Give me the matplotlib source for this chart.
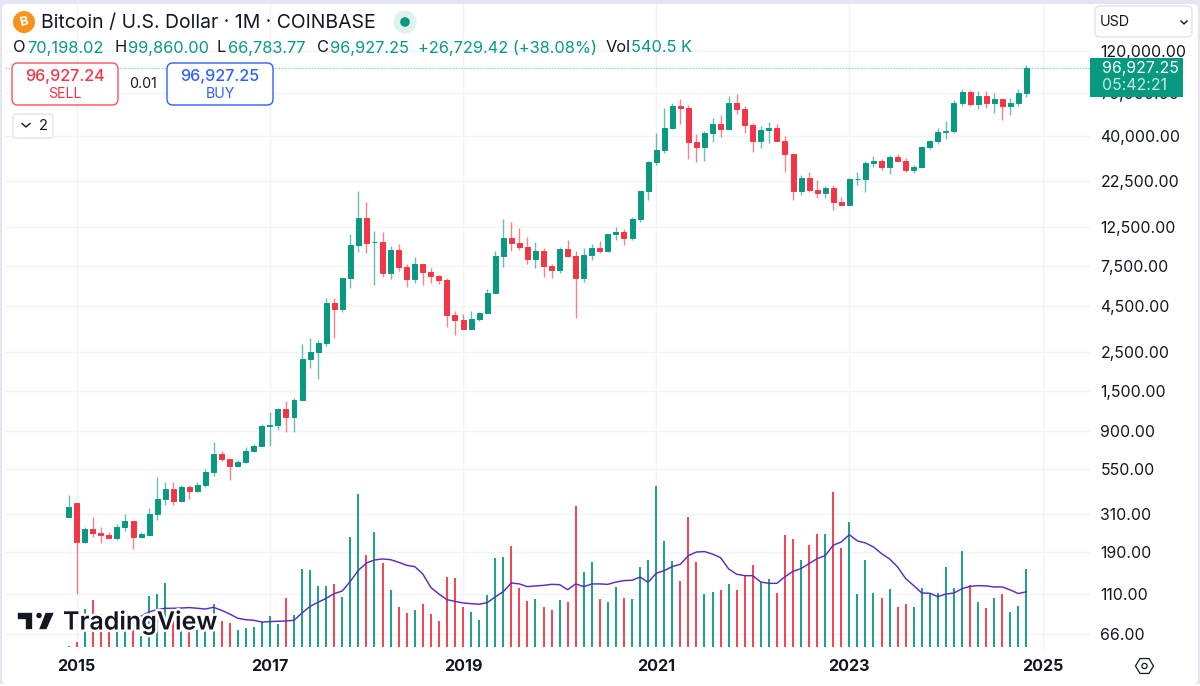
import matplotlib
matplotlib.use('Agg')
import matplotlib.pyplot as plt
import matplotlib.patheffects as pe
from matplotlib.patches import Circle, FancyBboxPatch, Polygon, Rectangle
from matplotlib.ticker import NullLocator
import numpy as np

plt.rcParams['font.family'] = ['Inter', 'DejaVu Sans']

# monthly candles, Dec 2014 to Nov 2024
opens = [298, 357, 217, 254, 244, 236, 226, 263, 284, 230, 236, 311, 378,
         430, 368, 436, 416, 448, 531, 670, 625, 575, 608, 700, 742,
         963, 970, 1190, 1080, 1350, 2270, 2480, 2800, 4700, 4360, 6450, 9900,
         13900, 10250, 10300, 6925, 9240, 7490, 6390, 7730, 7010, 6600, 6300, 4020,
         3740, 3360, 3810, 4100, 5320, 8570, 10820, 10080, 9600, 8300, 9150, 7550,
         7190, 9350, 8540, 6420, 8630, 9450, 9140, 11350, 11650, 10780, 13800, 19700,
         28800, 33400, 44300, 58800, 57700, 37300, 34900, 41500, 46900, 43800, 61300, 56900,
         46300, 37900, 43200, 44700, 37600, 31800, 19900, 23300, 19950, 19350, 20500, 17150,
         16530, 23130, 23140, 28470, 29230, 26900, 30470, 29230, 25940, 26970, 34660, 37720,
         42280, 42580, 61170, 70700, 60900, 66900, 61800, 64700, 58800, 61600, 70198.02]
highs = [396, 357, 262, 298, 262, 247, 272, 310, 284, 245, 335, 500, 469,
         465, 448, 448, 470, 550, 780, 700, 625, 620, 735, 760, 985,
         1150, 1218, 1330, 1370, 2760, 3000, 2920, 4980, 4980, 6500, 11400, 19900,
         17200, 11800, 11700, 9750, 10000, 7760, 8500, 7750, 7350, 6730, 6420, 4200,
         4080, 4200, 4150, 5600, 9100, 13880, 13200, 12300, 10950, 10300, 9500, 7700,
         9600, 10500, 9180, 9460, 10050, 10380, 11430, 12480, 12070, 14100, 19915, 29300,
         41900, 57900, 61800, 64900, 59500, 41300, 42600, 50500, 52900, 66900, 68900, 59000,
         47800, 45800, 48200, 46900, 40000, 31900, 24300, 25200, 22800, 21100, 21500, 18300,
         23300, 25200, 29200, 30900, 29900, 31400, 31800, 30100, 27500, 35200, 38400, 44700,
         48900, 64000, 73800, 72700, 71900, 72000, 70000, 65000, 65800, 73500, 99860]
lows = [298, 110, 213, 231, 214, 226, 221, 250, 198, 226, 235, 288, 350,
        350, 360, 375, 410, 440, 507, 610, 480, 570, 600, 690, 740,
        745, 910, 890, 890, 1350, 2040, 1760, 2700, 2970, 4160, 5700, 9000,
        8900, 5920, 6530, 6400, 7050, 5780, 6070, 5900, 6080, 6000, 3420, 3120,
        3340, 3340, 3700, 4100, 5320, 7400, 9100, 9320, 7750, 7350, 6570, 6420,
        6850, 8500, 3850, 6150, 8130, 8900, 9000, 10560, 9900, 10520, 13250, 17700,
        27700, 32300, 44000, 46900, 30000, 28800, 29300, 37300, 39600, 43200, 53400, 42000,
        32900, 34300, 36500, 37500, 25400, 17600, 18900, 19550, 18100, 18100, 15500, 16500,
        16500, 21400, 19600, 26900, 25800, 24750, 29000, 25300, 24900, 26550, 34100, 36200,
        38500, 42000, 59200, 59200, 56600, 57300, 53700, 49500, 52600, 58900, 66783.77]
closes = [339, 217, 254, 244, 236, 228, 263, 284, 230, 240, 311, 378, 430,
          368, 436, 416, 448, 531, 670, 625, 575, 608, 700, 742, 963,
          970, 1190, 1080, 1350, 2270, 2480, 2800, 4700, 4360, 6450, 9900, 13900,
          10200, 10300, 6925, 9240, 7490, 6390, 7730, 7010, 6600, 6300, 4020, 3740,
          3360, 3810, 4100, 5320, 8570, 10820, 10080, 9600, 8300, 9150, 7550, 7190,
          9350, 8540, 6420, 8630, 9450, 9140, 11350, 11650, 10780, 13800, 19700, 28800,
          33400, 44300, 58800, 57700, 37300, 34900, 41500, 46900, 43800, 61300, 56900, 46300,
          37900, 43200, 44700, 37600, 31800, 19900, 23300, 19950, 19350, 20500, 17150, 16530,
          23130, 23140, 28470, 29230, 26900, 30470, 29230, 25940, 26970, 34660, 37720, 42280,
          42580, 61170, 70700, 60900, 66900, 61800, 64700, 58800, 61600, 70198.02, 96927.25]
# volume in thousands
volumes = [5, 32, 266, 328, 231, 160, 185, 160, 115, 74, 351, 370, 444,
           185, 185, 160, 120, 178, 300, 182, 166, 120, 132, 136, 171,
           217, 162, 340, 224, 538, 536, 420, 420, 439, 349, 762, 1060,
           635, 797, 582, 393, 275, 236, 256, 300, 226, 182, 485, 478,
           280, 240, 189, 363, 617, 626, 702, 407, 319, 335, 280, 256,
           323, 314, 977, 522, 587, 335, 310, 416, 340, 335, 557, 605,
           1113, 737, 598, 460, 903, 587, 367, 383, 397, 437, 397, 490,
           568, 448, 474, 372, 776, 748, 601, 709, 783, 783, 1074, 688,
           869, 367, 605, 377, 342, 402, 280, 300, 280, 407, 367, 377,
           552, 407, 668, 430, 314, 270, 340, 367, 245, 286, 540.5]
# volume average line, starts Sep 2015
vol_ma = [213, 243, 259, 268,
          268, 270, 273, 268, 263, 275, 254, 229, 199, 189, 185, 173,
          176, 178, 180, 185, 236, 282, 310, 337, 370, 388, 455, 531,
          582, 603, 610, 605, 587, 566, 557, 506, 413, 367, 328, 316,
          305, 300, 296, 307, 347, 383, 444, 437, 418, 423, 427, 434,
          432, 397, 437, 418, 437, 437, 434, 450, 460, 462, 485, 448,
          511, 529, 557, 573, 633, 658, 661, 644, 619, 541, 504, 494,
          494, 450, 441, 441, 487, 524, 543, 578, 612, 633, 705, 728,
          778, 735, 721, 693, 647, 610, 554, 474, 425, 374, 372, 349,
          367, 374, 404, 420, 425, 423, 416, 416, 395, 370, 383]
price_ticks = [66, 110, 190, 310, 550, 900, 1500, 2500, 4500, 7500, 12500,
               22500, 40000, 70000, 120000]
year_ticks = [0, 24, 48, 72, 96, 120]
year_labels = ['2015', '2017', '2019', '2021', '2023', '2025']

UP = '#089981'
DOWN = '#f23645'
GRID = '#f2f3f5'
INK = '#131722'

months = np.arange(-1, 119)
is_up = np.array(closes) >= np.array(opens)
colors = [UP if u else DOWN for u in is_up]

fig = plt.figure(figsize=(12, 6.86), dpi=100, facecolor='white')
box = [5 / 1200, 1 - 650 / 686, 1085 / 1200, 645 / 686]

# page frame
bg = fig.add_axes([0, 0, 1, 1], zorder=0)
bg.set_xlim(0, 1200)
bg.set_ylim(686, 0)
bg.axis('off')
bg.add_patch(Rectangle((0, 0), 1200, 686, fc='#e2e6f0', ec='none'))
bg.add_patch(Rectangle((0, 684), 1200, 2, fc='white', ec='none'))
bg.add_patch(FancyBboxPatch((6, 8), 1188, 672, boxstyle='round,pad=4,rounding_size=5',
                            fc='white', ec='none'))

# price pane
ax = fig.add_axes(box, zorder=1)
ax.patch.set_alpha(0)
ax.set_yscale('log')
ax.set_xlim(-8.907, 125.9)
ax.set_ylim(53.8, 216900)
ax.vlines(months, lows, highs, colors=colors, lw=1.0, alpha=0.62, zorder=3)
ax.bar(months, np.abs(np.array(closes) - np.array(opens)),
       bottom=np.minimum(opens, closes), width=0.62,
       color=colors, edgecolor=colors, linewidth=0.7, zorder=4)
ax.set_yticks(price_ticks)
ax.set_yticklabels([f'{v:,.2f}' for v in price_ticks])
ax.yaxis.set_minor_locator(NullLocator())
ax.yaxis.tick_right()
ax.set_xticks(year_ticks)
ax.set_xticklabels(year_labels, fontweight='bold', color=INK, fontsize=11.6)
ax.tick_params(axis='both', length=0)
ax.tick_params(axis='y', pad=7.5, labelsize=11.4, labelcolor=INK)
ax.tick_params(axis='x', pad=6.5)
ax.grid(True, color=GRID, lw=1.0, zorder=0)
ax.set_axisbelow(True)
for s in ax.spines.values():
    s.set_visible(False)
ax.axhline(closes[-1], color=UP, lw=0.9, ls=(0, (1, 1.4)), alpha=0.55, zorder=2)

# volume pane on the same box
vax = fig.add_axes(box, zorder=2, sharex=ax)
vax.patch.set_alpha(0)
vax.set_ylim(-21, 4449)
vax.vlines(months, 0, volumes, colors=colors, lw=1.3, capstyle='butt')
vax.plot(months[-len(vol_ma):], vol_ma, color='#5b2dbd', lw=1.05)
vax.axis('off')

# everything around the chart, in pixels
ui = fig.add_axes([0, 0, 1, 1], zorder=3)
ui.set_xlim(0, 1200)
ui.set_ylim(686, 0)
ui.axis('off')

# header
ui.add_patch(Circle((24, 22), 11, fc='#f7931a', ec='none'))
ui.text(24, 22.5, 'B', color='white', fontsize=9.5, fontweight='bold', ha='center', va='center',
        rotation=12)
ui.text(41, 22.5, 'Bitcoin / U.S. Dollar · 1M · COINBASE', fontsize=13.95, color=INK, va='center')
ui.add_patch(Circle((405, 22), 11.5, fc='#dff1ec', ec='none'))
ui.add_patch(Circle((405, 22), 4.8, fc=UP, ec='none'))

ohlc_labels = [(13, 'O', INK), (27, '70,198.02', UP), (115, 'H', INK), (128, '99,860.00', UP),
               (217, 'L', INK), (228, '66,783.77', UP), (317, 'C', INK), (330, '96,927.25', UP),
               (418, '+26,729.42 (+38.08%)', UP), (606, 'Vol', INK), (631, '540.5 K', UP)]
for tx, ts, tc in ohlc_labels:
    ui.text(tx, 48, ts, fontsize=11.8, color=tc, va='center')

# sell / buy
ui.add_patch(FancyBboxPatch((17, 68), 96, 32, boxstyle='round,pad=5,rounding_size=6',
                            fc='white', ec='#f7525f', lw=1))
ui.text(65, 77, '96,927.24', fontsize=11.6, color=DOWN, ha='center', va='center', fontweight='medium')
ui.text(65, 94.5, 'SELL', fontsize=10.2, color=DOWN, ha='center', va='center')
ui.text(143, 83.5, '0.01', fontsize=10.2, color=INK, ha='center', va='center')
ui.add_patch(FancyBboxPatch((172, 68), 96, 32, boxstyle='round,pad=5,rounding_size=6',
                            fc='white', ec='#2962ff', lw=1))
ui.text(220, 77, '96,927.25', fontsize=11.6, color='#2962ff', ha='center', va='center', fontweight='medium')
ui.text(220, 94.5, 'BUY', fontsize=10.2, color='#2962ff', ha='center', va='center')

ui.add_patch(FancyBboxPatch((16, 117), 34, 18, boxstyle='round,pad=3,rounding_size=3',
                            fc='white', ec='#e0e3eb', lw=1))
ui.plot([22, 26, 30], [123.5, 127, 123.5], color=INK, lw=1)
ui.text(43, 125.5, '2', fontsize=10.5, color=INK, ha='center', va='center')

# currency selector
ui.add_patch(FancyBboxPatch((1099, 10), 89, 23, boxstyle='round,pad=4,rounding_size=5',
                            fc='white', ec='#e0e3eb', lw=1))
ui.text(1100, 22, 'USD', fontsize=10.3, color=INK, va='center')
ui.plot([1181, 1184, 1187], [21, 24, 21], color=INK, lw=1)

# last price tag
ui.add_patch(Rectangle((1090, 58), 93, 39, fc=UP, ec='none'))
ui.text(1102, 68, '96,927.25', fontsize=11.4, color='white', va='center')
ui.text(1102, 85, '05:42:21', fontsize=11.4, color='#c8e8e1', va='center')

# settings icon
ang = np.deg2rad(np.arange(0, 360, 60))
ui.add_patch(Polygon(np.c_[1144.5 + 9 * np.cos(ang), 666 + 8.6 * np.sin(ang)], closed=True,
                     fc='white', ec=INK, lw=0.9))
ui.add_patch(Circle((1144.5, 666), 2.6, fc='white', ec=INK, lw=0.9))

# logo
halo = [pe.withStroke(linewidth=3.5, foreground='white')]
ui.text(63, 622, 'TradingView', fontsize=18, fontweight='semibold', color=INK, va='center',
        path_effects=halo)
logo_parts = [Polygon([(17, 612), (33, 612), (33, 630), (25, 630), (25, 620), (17, 620)], closed=True),
              Polygon([(45, 612), (55, 612), (47, 630), (38, 630)], closed=True),
              Circle((39, 615.5), 3.6)]
for part in logo_parts:
    part.set(fc=INK, ec='white', lw=1.2)
    ui.add_patch(part)

plt.savefig('out.png', dpi=100)
